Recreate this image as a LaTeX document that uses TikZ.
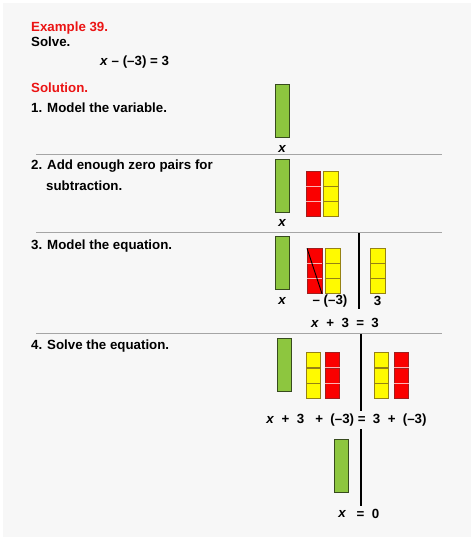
\documentclass[tikz,border=0pt]{standalone}
\usepackage{fontspec}
\setmainfont{Liberation Sans}
\usetikzlibrary{positioning}
\definecolor{PageGray}{RGB}{247,247,247}
\definecolor{RuleGray}{RGB}{165,165,165}
\definecolor{TitleRed}{RGB}{235,20,20}
\definecolor{VarGreen}{RGB}{141,198,63}
\definecolor{VarEdge}{RGB}{55,75,30}
\definecolor{NegRed}{RGB}{250,0,0}
\definecolor{NegEdge}{RGB}{160,30,30}
\definecolor{PosYellow}{RGB}{255,250,0}
\definecolor{PosEdge}{RGB}{150,130,20}
\tikzset{
  txt/.style={anchor=west,inner sep=0pt,font=\bfseries\fontsize{13.3}{15}\selectfont},
  head/.style={txt,text=TitleRed},
  lbl/.style={inner sep=0pt,font=\bfseries\fontsize{13.3}{15}\selectfont},
  varbar/.style={draw=VarEdge,fill=VarGreen,line width=0.8pt,minimum width=14pt,minimum height=53pt,inner sep=0pt},
  negtile/.style={draw=NegEdge,fill=NegRed,line width=0.5pt,minimum width=14.5pt,minimum height=15pt,inner sep=0pt},
  postile/.style={draw=PosEdge,fill=PosYellow,line width=0.5pt,minimum width=14.5pt,minimum height=15pt,inner sep=0pt},
  rule/.style={draw=RuleGray,line width=1pt},
  bar/.style={draw=black,line width=1.6pt},
}
\begin{document}
\begin{tikzpicture}[x=1pt,y=-1pt]
\fill[white] (0,0) rectangle (474,540);
\fill[PageGray] (3,3) rectangle (471,537);
\useasboundingbox (0,0) rectangle (474,540);
% texts on the left
\node[head] (ex) at (31,28) {Example 39.};
\node[txt] (solve) at (31,42) {Solve.};
\node[txt] (eq) at (100,62) {\itshape x\/\upshape{} – (–3) = 3};
\node[head] (sol) at (31,88) {Solution.};
\node[txt] (s1) at (31,108) {1. Model the variable.};
\node[txt] (s2) at (31,166) {2. Add enough zero pairs for};
\node[txt] (s2b) at (46,186) {subtraction.};
\node[txt] (s3) at (31,246) {3. Model the equation.};
\node[txt] (s4) at (31,346) {4. Solve the equation.};
% rules between steps
\foreach \y/\n in {155/a,232/b,333/c}{
  \coordinate (l\n) at (36,\y);
  \coordinate (r\n) at (442,\y);
  \draw[rule] (l\n) -- (r\n);
}
% step 1
\node[varbar] (g1) at (282,111) {};
\node[lbl] (x1) at (282,149) {\itshape x};
% step 2
\node[varbar] (g2) at (282,185.5) {};
\node[lbl] (x2) at (282,223) {\itshape x};
\foreach \i in {0,1,2}{
  \node[negtile] (n2\i) at (313,178.5+15*\i) {};
  \node[postile] (p2\i) at (330.5,178.5+15*\i) {};
}
\foreach \i in {0,1}{
  \draw[white!70!NegRed,line width=0.6pt] (n2\i.south west) -- (n2\i.south east);
}
% step 3
\node[varbar] (g3) at (282,262.5) {};
\node[lbl] (x3) at (282,301) {\itshape x};
\foreach \i in {0,1,2}{
  \node[negtile] (n3\i) at (314.5,256+15*\i) {};
  \node[postile] (p3\i) at (332.5,256+15*\i) {};
  \node[postile] (q3\i) at (377.5,256+15*\i) {};
}
\foreach \i in {0,1}{
  \draw[white!70!NegRed,line width=0.6pt] (n3\i.south west) -- (n3\i.south east);
}
\draw[black,line width=0.9pt] (n30.north west) -- (n32.south east);
\node[lbl] (m3) at (330,301) {– (–3)};
\node[lbl] (t3) at (377.5,301) {3};
\coordinate (v3a) at (359,233);
\coordinate (v3b) at (359,309);
\draw[bar] (v3a) -- (v3b);
\node[lbl] (e3) at (345,323) {\itshape x\/\upshape{} \ + \ 3 \ = \ 3};
% step 4
\node[varbar] (g4) at (284,364.5) {};
\foreach \i in {0,1,2}{
  \node[postile] (p4\i) at (313,360+15.3*\i) {};
  \node[negtile] (n4\i) at (332,360+15.3*\i) {};
  \node[postile] (q4\i) at (381,360+15.3*\i) {};
  \node[negtile] (m4\i) at (401,360+15.3*\i) {};
}
\foreach \i in {0,1}{
  \draw[white!70!NegRed,line width=0.6pt] (n4\i.south west) -- (n4\i.south east);
  \draw[white!70!NegRed,line width=0.6pt] (m4\i.south west) -- (m4\i.south east);
}
\coordinate (v4a) at (361,334);
\coordinate (v4b) at (361,411);
\draw[bar] (v4a) -- (v4b);
\node[lbl] (e4) at (346.5,420) {\itshape x\/\upshape{} \ + \ 3 \ \ + \ (–3) = \ 3 \ + \ (–3)};
\node[varbar] (g5) at (341.5,465.5) {};
\coordinate (v5a) at (361,429);
\coordinate (v5b) at (361,506);
\draw[bar] (v5a) -- (v5b);
\node[lbl] (x5) at (342,514) {\itshape x};
\node[lbl] (z5) at (368,514) {= \ 0};
\end{tikzpicture}
\end{document}
